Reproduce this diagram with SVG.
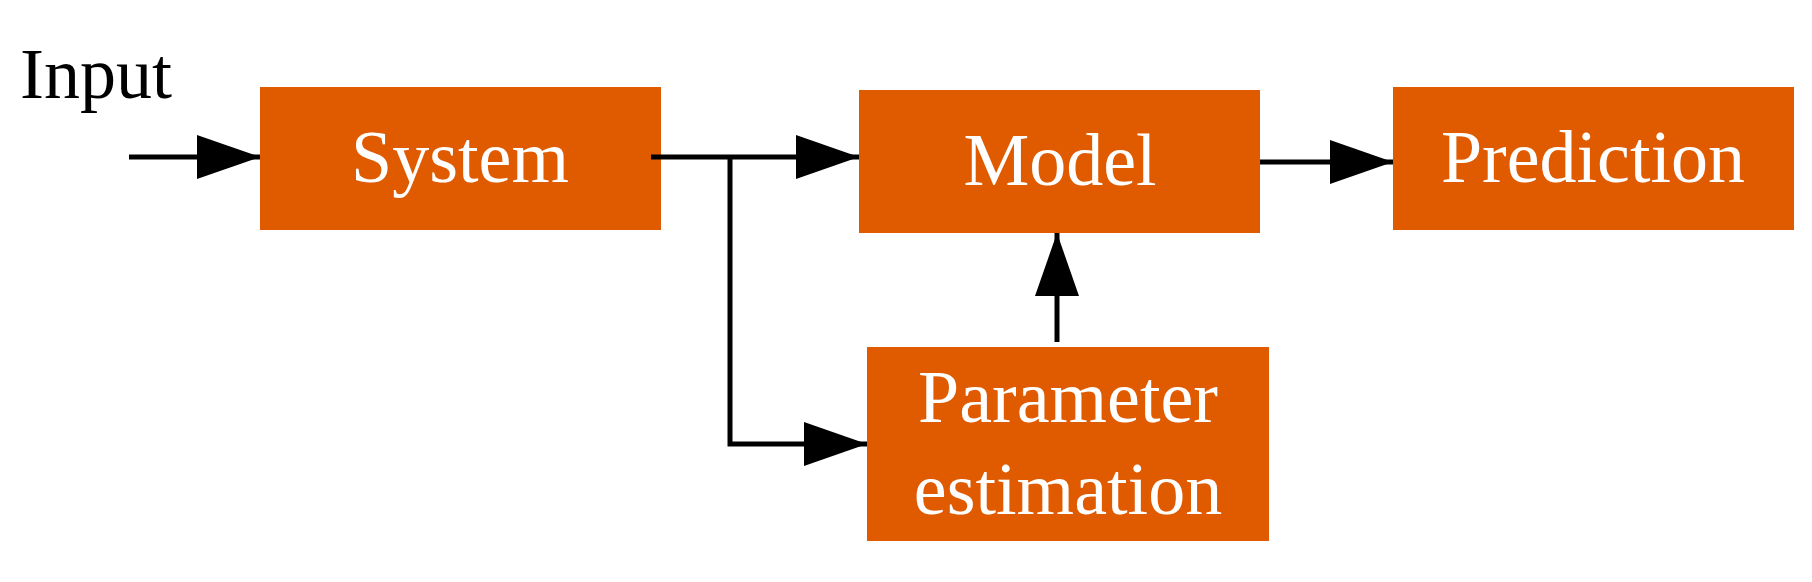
<svg xmlns="http://www.w3.org/2000/svg" width="1812" height="582" viewBox="0 0 1812 582">
<style>
.box{fill:#E05A00}
.t{font-family:"Liberation Serif",serif;font-size:74px;fill:#fff;text-anchor:middle}
.c{stroke:#000;stroke-width:5;fill:none}
</style>
<defs><marker id="a" markerUnits="userSpaceOnUse" markerWidth="64" markerHeight="44" refX="63" refY="22" orient="auto"><path d="M0,0L63,22L0,44Z" fill="#000"/></marker></defs>
<rect width="1812" height="582" fill="#fff"/>
<text x="20" y="98" font-family="Liberation Serif,serif" font-size="72" fill="#000">Input</text>
<g id="system"><rect class="box" x="260" y="87" width="401" height="143"/><text class="t" x="460" y="182">System</text></g>
<g id="model"><rect class="box" x="859" y="90" width="401" height="143"/><text class="t" x="1060" y="185">Model</text></g>
<g id="prediction"><rect class="box" x="1393" y="87" width="401" height="143"/><text class="t" x="1593" y="182">Prediction</text></g>
<g id="param"><rect class="box" x="867" y="347" width="402" height="194"/><text class="t" x="1068" y="422">Parameter</text><text class="t" x="1068" y="514">estimation</text></g>
<g id="connectors">
<path class="c" d="M129,157H260" marker-end="url(#a)"/>
<path class="c" d="M651,157H859" marker-end="url(#a)"/>
<path class="c" d="M730,157V444H867" marker-end="url(#a)"/>
<path class="c" d="M1260,162H1393" marker-end="url(#a)"/>
<path class="c" d="M1057,342V233" marker-end="url(#a)"/>
</g>
</svg>
